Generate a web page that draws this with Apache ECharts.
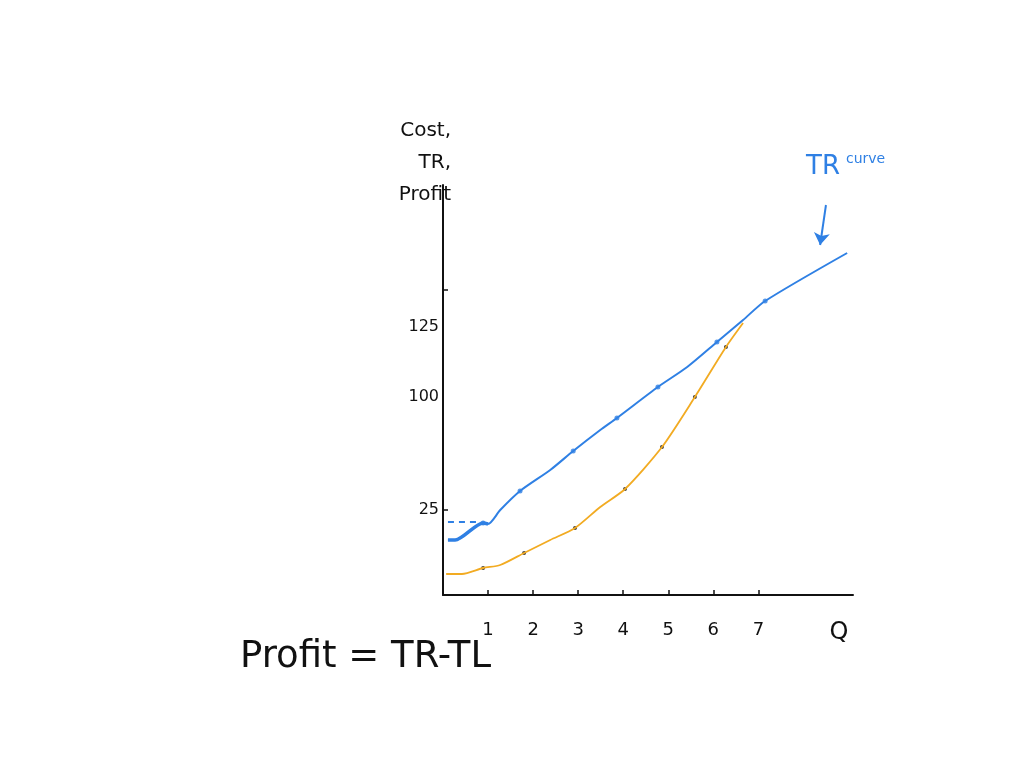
<!DOCTYPE html>
<html>
<head>
<meta charset="utf-8">
<script src="https://cdn.jsdelivr.net/npm/echarts@6/dist/echarts.min.js"></script>
<style>html,body{margin:0;padding:0;background:#fff}#c{width:1024px;height:768px}</style>
</head>
<body>
<div id="c"></div>
<script>
// Quantity (Q) and sketch-height values
const trPoints = [[0.11,27.5],[0.27,27.5],[0.89,36],[1.00,35.5],[1.27,42.5],[1.71,52],[2.38,62.5],[2.89,72],[3.49,82.5],[3.86,88.5],[4.77,104],[5.42,114],[6.08,126.5],[6.66,137.5],[7.15,147],[8.97,171]];
const costPoints = [[0.07,10.5],[0.42,10.5],[0.89,13.5],[1.27,15],[1.80,21],[2.38,27.5],[2.93,33.5],[3.49,44],[4.04,53],[4.86,74],[5.59,99],[6.28,124],[6.66,136]];
const costMarks = [[0.89,13.5],[1.80,21],[2.93,33.5],[4.04,53],[4.86,74],[5.59,99],[6.28,124]];
const trMarks = [[0.89,36],[1.71,52],[2.89,72],[3.86,88.5],[4.77,104],[6.08,126.5],[7.15,147]];
const dashedGuide = [[0.11,36.5],[0.82,36.5]];
const xTicks = [1,2,3,4,5,6,7];
const xTickLabels = ['1','2','3','4','5','6','7'];
const yTickPos = [42.5,99,134];
const yTickLabels = ['25','100','125'];
const yExtraTicks = [42.5,152.5];
const arrowFrom = [8.5,195];
const arrowTo = [8.37,175];

const BLUE = '#2f80e4', ORANGE = '#f2ab22', INK = '#111';
const FONT = 'DejaVu Sans';

const chart = echarts.init(document.getElementById('c'));
chart.setOption({
  backgroundColor: '#fff',
  animation: false,
  grid: {left: 443, right: 171, top: 185, bottom: 173},
  xAxis: {
    type: 'value', min: 0, max: 9.1,
    name: 'Q', nameLocation: 'end', nameGap: -14,
    nameTextStyle: {color: INK, fontSize: 24, fontFamily: FONT, align: 'center', verticalAlign: 'top', padding: [26,0,0,0]},
    axisLine: {onZero: false, lineStyle: {color: INK, width: 2}},
    axisTick: {show: true, customValues: xTicks, length: 5, inside: true, lineStyle: {color: INK, width: 1.5}},
    axisLabel: {customValues: xTicks, formatter: v => xTickLabels[xTicks.indexOf(v)] ?? '', color: INK, fontSize: 18, fontFamily: FONT, margin: 26},
    splitLine: {show: false}
  },
  yAxis: {
    type: 'value', min: 0, max: 205,
    name: 'Cost,\nTR,\nProfit', nameLocation: 'end', nameGap: 22,
    nameTextStyle: {color: INK, fontSize: 20, fontFamily: FONT, align: 'right', verticalAlign: 'middle', lineHeight: 32, padding: [0,-8,0,0]},
    axisLine: {onZero: false, lineStyle: {color: INK, width: 2}},
    axisTick: {show: true, customValues: yExtraTicks, length: 5, inside: true, lineStyle: {color: INK, width: 1.5}},
    axisLabel: {customValues: yTickPos, formatter: v => yTickLabels[yTickPos.indexOf(v)] ?? '', color: INK, fontSize: 16, fontFamily: FONT, margin: 4},
    splitLine: {show: false}
  },
  graphic: [
    {type: 'text', left: 806, top: 152, style: {rich: {a: {fontSize: 26, fontFamily: FONT, fill: BLUE}, b: {fontSize: 14, fontFamily: FONT, fill: BLUE, verticalAlign: 'top', padding: [0,0,16,6]}}, text: '{a|TR}{b|curve}'}},
    {type: 'text', left: 240, top: 639, style: {text: 'Profit = TR-TL', fontSize: 37, fontFamily: FONT, fill: INK}}
  ],
  series: [
    {type: 'line', data: trPoints, smooth: 0.25, showSymbol: false, lineStyle: {color: BLUE, width: 2},
      markLine: {silent: true, symbol: ['none','arrow'], symbolSize: 12, label: {show: false}, lineStyle: {color: BLUE, width: 2, type: 'solid'},
        data: [[{coord: arrowFrom}, {coord: arrowTo}]]}},
    {type: 'line', data: trPoints.slice(0,4), smooth: 0.25, showSymbol: false, lineStyle: {color: BLUE, width: 3.5}},
    {type: 'line', data: dashedGuide, showSymbol: false, lineStyle: {color: BLUE, width: 2, type: [6,5]}},
    {type: 'line', data: costPoints, smooth: 0.25, showSymbol: false, lineStyle: {color: ORANGE, width: 1.8}},
    {type: 'scatter', data: trMarks, symbolSize: 5, itemStyle: {color: BLUE}},
    {type: 'scatter', data: costMarks, symbolSize: 4, itemStyle: {color: INK}}
  ]
});
</script>
</body>
</html>
